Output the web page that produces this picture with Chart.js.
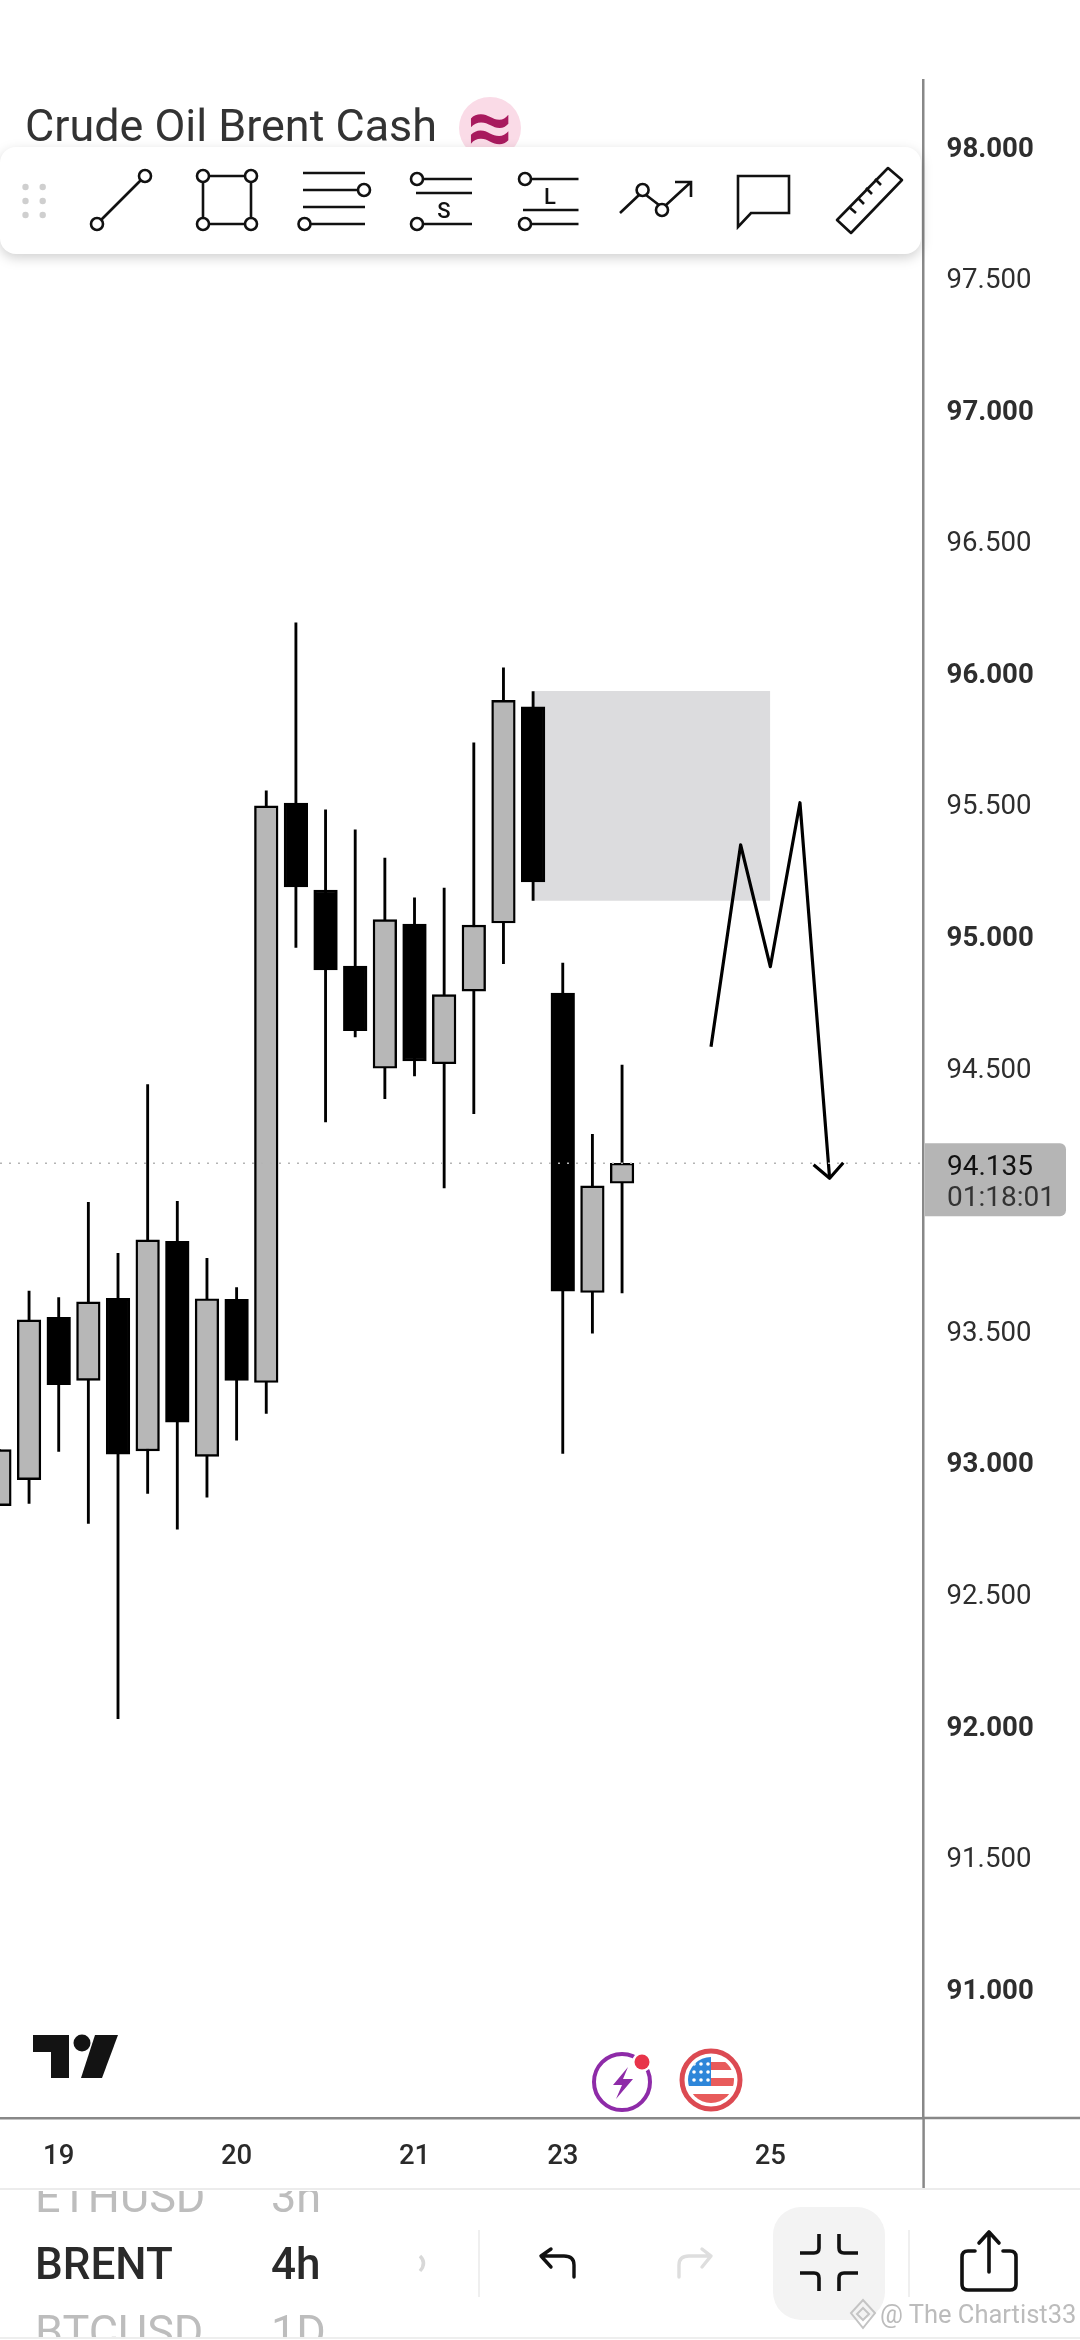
<!DOCTYPE html>
<html>
<head>
<meta charset="utf-8">
<title>Crude Oil Brent Cash</title>
<script src="https://cdn.jsdelivr.net/npm/chart.js@4"></script>
<style>
html,body{margin:0;padding:0;background:#fff;width:1080px;height:2340px;overflow:hidden}
#c{position:absolute;left:0;top:0}
#ui{position:absolute;left:0;top:0;font-family:Roboto,sans-serif}
</style>
</head>
<body>
<canvas id="c" width="1080" height="2340"></canvas>
<svg id="ui" width="1080" height="2340" viewBox="0 0 1080 2340" xmlns="http://www.w3.org/2000/svg">
  <defs>
    <clipPath id="listClip"><rect x="0" y="2191" width="460" height="146"/></clipPath>
    <clipPath id="flagClip"><circle cx="711" cy="2080" r="23"/></clipPath>
  </defs>

  <!-- extensions of the axis lines -->
  <line x1="923.6" y1="2118" x2="923.6" y2="2188" stroke="#888" stroke-width="2.5"/>
  <line x1="923.6" y1="2118" x2="1080" y2="2118" stroke="#888" stroke-width="2.5"/>
  <line x1="0" y1="2189" x2="1080" y2="2189" stroke="#ececec" stroke-width="2"/>

  <!-- title -->
  <text x="25" y="141" font-size="44" fill="#333" font-family="Roboto" textLength="412" lengthAdjust="spacingAndGlyphs">Crude Oil Brent Cash</text>
  <circle cx="490" cy="128" r="31" fill="#fadbe7"/>
  <text x="490" y="154" font-size="80" font-weight="700" text-anchor="middle" fill="#a81a5e" font-family="Roboto">≈</text>

  <!-- drawing toolbar -->
  <rect x="0" y="147" width="921" height="107" rx="16" fill="#fff" style="filter:drop-shadow(0 4px 6px rgba(0,0,0,.18))"/>
  <g fill="#cfcfcf">
    <circle cx="25.5" cy="187" r="3.2"/><circle cx="42.7" cy="187" r="3.2"/>
    <circle cx="25.5" cy="201" r="3.2"/><circle cx="42.7" cy="201" r="3.2"/>
    <circle cx="25.5" cy="215" r="3.2"/><circle cx="42.7" cy="215" r="3.2"/>
  </g>
  <g fill="none" stroke="#111" stroke-width="2.6">
    <line x1="101" y1="220" x2="141" y2="180"/>
    <circle cx="97" cy="224" r="6"/><circle cx="145" cy="176" r="6"/>

    <path d="M209 176H245M251 182V218M245 224H209M203 218V182"/>
    <circle cx="203" cy="176" r="6"/><circle cx="251" cy="176" r="6"/><circle cx="203" cy="224" r="6"/><circle cx="251" cy="224" r="6"/>

    <path d="M303 173H365M303 190H358M303 207H365M311 224H365"/>
    <circle cx="364" cy="190" r="6"/><circle cx="304.5" cy="224" r="6"/>

    <path d="M423 179H472M416 193H472M423 224H472"/>
    <circle cx="417" cy="179" r="6"/><circle cx="417" cy="224" r="6"/>

    <path d="M531 179H578.5M523 210H578.5M531 224H578.5"/>
    <circle cx="525" cy="179" r="6"/><circle cx="525" cy="224" r="6"/>

    <path d="M620 213L639 195M646 195L659 205M666 205L691 182M675 182H691V197"/>
    <circle cx="642.6" cy="190" r="6"/><circle cx="662" cy="210" r="6"/>

    <path d="M738 227V176H789V213H751Z" stroke-linejoin="miter"/>

    <path d="M888 168L902 180L851 233L837 220Z" stroke-linejoin="round"/>
    <path d="M849 207L856 213M858 198L864 204M866 188L872 194M875 179L881 185"/>
  </g>
  <text x="444" y="218" font-size="22" font-weight="500" text-anchor="middle" fill="#111" font-family="Roboto">S</text>
  <text x="550" y="204" font-size="22" font-weight="500" text-anchor="middle" fill="#111" font-family="Roboto">L</text>

  <!-- TradingView mark -->
  <g fill="#131313">
    <path d="M33 2035H69V2078H51V2052H33Z"/>
    <circle cx="82" cy="2043" r="8.5"/>
    <path d="M95 2035H118L102 2078H81Z"/>
  </g>

  <!-- event badges -->
  <circle cx="622" cy="2082" r="28" fill="none" stroke="#8e2ba8" stroke-width="4"/>
  <circle cx="642" cy="2062" r="10" fill="#fff"/>
  <circle cx="642" cy="2062" r="7.5" fill="#e8344a"/>
  <path d="M628 2067L613 2085H622L616 2099L633 2079H623Z" fill="#8e2ba8"/>
  <circle cx="711" cy="2080" r="29" fill="#fff" stroke="#dc4a52" stroke-width="5"/>
  <g clip-path="url(#flagClip)">
    <rect x="688" y="2057" width="46" height="46" fill="#fff"/>
    <rect x="711" y="2062" width="24" height="8" fill="#e85b5b"/>
    <rect x="711" y="2078" width="24" height="8" fill="#e85b5b"/>
    <rect x="688" y="2094" width="46" height="9" fill="#e85b5b"/>
    <rect x="688" y="2057" width="23" height="29" fill="#2e86d9"/>
    <g fill="#fff"><circle cx="694" cy="2064" r="1.8"/><circle cx="701" cy="2064" r="1.8"/><circle cx="708" cy="2064" r="1.8"/><circle cx="694" cy="2072" r="1.8"/><circle cx="701" cy="2072" r="1.8"/><circle cx="708" cy="2072" r="1.8"/><circle cx="694" cy="2080" r="1.8"/><circle cx="701" cy="2080" r="1.8"/><circle cx="708" cy="2080" r="1.8"/></g>
  </g>

  <!-- bottom bar -->
  <g clip-path="url(#listClip)" font-family="Roboto">
    <text x="35" y="2212" font-size="45" fill="#bdbdbd">ETHUSD</text>
    <text x="271" y="2212" font-size="45" fill="#bdbdbd">3h</text>
    <text x="35" y="2279" font-size="44" font-weight="500" fill="#2a2a2a">BRENT</text>
    <text x="271" y="2279" font-size="44" font-weight="500" fill="#2a2a2a">4h</text>
    <text x="35" y="2347" font-size="45" fill="#bdbdbd">BTCUSD</text>
    <text x="271" y="2347" font-size="45" fill="#bdbdbd">1D</text>
  </g>
  <path d="M420 2256Q427 2263 420 2271" fill="none" stroke="#d8d8d8" stroke-width="3.4"/>
  <line x1="479" y1="2230" x2="479" y2="2297" stroke="#efefef" stroke-width="2"/>
  <g fill="none" stroke-width="3.4" stroke-linecap="round" stroke-linejoin="round">
    <path d="M574 2277V2265Q574 2256 564 2256H541M551 2249L541 2256L551 2267" stroke="#111"/>
    <path d="M679 2277V2265Q679 2256 689 2256H711M702 2249L711 2256L702 2267" stroke="#dedede"/>
  </g>
  <rect x="773" y="2207" width="112" height="113" rx="28" fill="#f3f3f3"/>
  <g fill="none" stroke="#111" stroke-width="3.6" stroke-linejoin="round">
    <path d="M819 2234V2248Q819 2253 814 2253H800"/>
    <path d="M839 2234V2248Q839 2253 844 2253H858"/>
    <path d="M800 2273H814Q819 2273 819 2278V2291"/>
    <path d="M858 2273H844Q839 2273 839 2278V2291"/>
  </g>
  <line x1="909" y1="2230" x2="909" y2="2297" stroke="#efefef" stroke-width="2"/>
  <g fill="none" stroke="#111" stroke-width="3.6" stroke-linejoin="round" stroke-linecap="round">
    <path d="M975 2251H968Q962 2251 962 2257V2284Q962 2290 968 2290H1010Q1016 2290 1016 2284V2257Q1016 2251 1010 2251H1003"/>
    <path d="M989 2272V2232M979 2243L989 2232L999 2243"/>
  </g>
  <line x1="0" y1="2338" x2="1080" y2="2338" stroke="#eeeeee" stroke-width="2"/>

  <!-- watermark -->
  <g fill="none" stroke="#c4c4c4" stroke-width="2">
    <path d="M863 2300L875 2313L863 2328L851 2313Z"/>
    <path d="M863 2308L869 2314L863 2320L857 2314Z"/>
  </g>
  <text x="880" y="2323" font-size="25.5" fill="#bcbcbc" font-family="Roboto">@ The Chartist33</text>
</svg>

<script>
// ----- values -----
const candleIndex = [0,1,2,3,4,5,6,7,8,9,10,11,12,13,14,15,16,17,18,19,20,21];
const opens  = [92.834,92.933,93.550,93.310,93.622,93.042,93.838,93.021,93.618,93.302,95.504,95.173,94.884,94.496,95.044,94.513,94.789,95.048,95.869,94.782,93.644,94.059];
const closes = [93.047,93.540,93.294,93.608,93.030,93.844,93.151,93.620,93.310,95.493,95.185,94.870,94.639,95.061,94.524,94.776,95.040,95.894,95.204,93.649,94.049,94.135];
const highs  = [93.047,93.649,93.625,93.987,93.793,94.434,93.990,93.774,93.663,95.550,96.189,95.478,95.402,95.295,95.144,95.181,95.733,96.018,95.927,94.896,94.245,94.508];
const lows   = [92.834,92.842,93.040,92.766,92.024,92.880,92.745,92.866,93.083,93.184,94.955,94.292,94.615,94.380,94.467,94.041,94.323,94.893,95.134,93.032,93.489,93.642];

const xTickIndices = [2,8,14,19,26];
const xTickLabels  = ['19','20','21','23','25'];
const yTickValues  = [98,97.5,97,96.5,96,95.5,95,94.5,93.5,93,92.5,92,91.5,91];

const zoneX = [18,26];
const zoneTop = 95.93;
const zoneBottom = 95.133;

const pathX = [24,25,26,27,28];
const pathY = [94.578,95.345,94.882,95.505,94.078];
const arrowX = [27.46,28,28.46];
const arrowY = [94.129,94.078,94.137];

const lastPrice = 94.135;
const countdown = '01:18:01';

const xRange = [0.02,31.17];
const yRange = [90.507,98.2514];
const upColor = '#b7b7b7';
const downColor = '#000000';
const lineColor = '#888888';
// ----------------------------------------

const priceTag = {
  id:'priceTag',
  beforeDraw(chart){
    // nudge the value-axis labels so their digits centre on the tick position
    chart.scales.y.getLabelItems(chart.chartArea).forEach(item=>{item.textOffset = 3.5;});
  },
  afterDraw(chart){
    const c = chart.ctx, y = chart.scales.y.getPixelForValue(lastPrice);
    c.save();
    c.fillStyle = '#b5b5b5';
    c.beginPath();
    c.roundRect(925,y-20,141,73,[0,6,6,0]);
    c.fill();
    c.textBaseline = 'middle';
    c.textAlign = 'left';
    c.font = '28px Roboto';
    c.fillStyle = '#111';
    c.fillText(lastPrice.toFixed(3),947,y+5);
    c.fillStyle = '#333';
    c.fillText(countdown,947,y+36);
    c.restore();
  }
};

new Chart(document.getElementById('c'),{
  type:'bar',
  plugins:[priceTag],
  data:{
    datasets:[
      {type:'line',order:5,data:zoneX.map(x=>({x,y:zoneTop})),borderWidth:0,pointRadius:0,
       backgroundColor:'#dcdcde',fill:{value:zoneBottom}},
      {order:4,grouped:false,barThickness:2.2,backgroundColor:'#000',borderWidth:0,
       data:candleIndex.map((x,i)=>({x,y:[lows[i],highs[i]]}))},
      {order:3,grouped:false,barThickness:23.6,borderWidth:2.4,borderSkipped:false,
       borderColor:'#000',
       backgroundColor:candleIndex.map((x,i)=>closes[i]>=opens[i]?upColor:downColor),
       data:candleIndex.map((x,i)=>({x,y:[opens[i],closes[i]]}))},
      {type:'line',order:2,data:pathX.map((x,i)=>({x,y:pathY[i]})),borderColor:'#000',borderWidth:3.2,
       pointRadius:0,tension:0,fill:false,borderJoinStyle:'round'},
      {type:'line',order:2,data:arrowX.map((x,i)=>({x,y:arrowY[i]})),borderColor:'#000',borderWidth:3.2,
       pointRadius:0,tension:0,fill:false,borderJoinStyle:'round'},
      {type:'line',order:1,data:xRange.map(x=>({x,y:lastPrice})),borderColor:'#b4b4b4',borderWidth:1.6,
       borderDash:[2,7],pointRadius:0,fill:false}
    ]
  },
  options:{
    responsive:false,
    animation:false,
    devicePixelRatio:1,
    maintainAspectRatio:false,
    layout:{padding:{top:80,bottom:152,left:0,right:0}},
    plugins:{legend:{display:false},tooltip:{enabled:false},title:{display:false}},
    scales:{
      x:{
        type:'linear',offset:false,min:xRange[0],max:xRange[1],
        grid:{display:false,drawTicks:false},
        border:{display:true,color:lineColor,width:2.5},
        afterBuildTicks(s){s.ticks = xTickIndices.map(value=>({value}));},
        afterFit(s){s.height = 70;},
        ticks:{
          autoSkip:false,maxRotation:0,minRotation:0,padding:23,color:'#2a2a2a',
          font:{family:'Roboto',size:27.5,weight:'500'},
          callback(v){const k=xTickIndices.indexOf(v);return k<0?'':xTickLabels[k];}
        }
      },
      y:{
        type:'linear',position:'right',min:yRange[0],max:yRange[1],
        grid:{display:false,drawTicks:false},
        border:{display:true,color:lineColor,width:2.5},
        afterBuildTicks(s){s.ticks = yTickValues.map(value=>({value}));},
        afterFit(s){s.width = 156.4;},
        ticks:{
          autoSkip:false,padding:23,color:'#2e2e2e',crossAlign:'near',
          font(ctx){return {family:'Roboto',size:27.6,weight:ctx.tick&&Number.isInteger(ctx.tick.value)?'bold':'normal'};},
          callback(v){return Number(v).toFixed(3);}
        }
      }
    }
  }
});
</script>
</body>
</html>
